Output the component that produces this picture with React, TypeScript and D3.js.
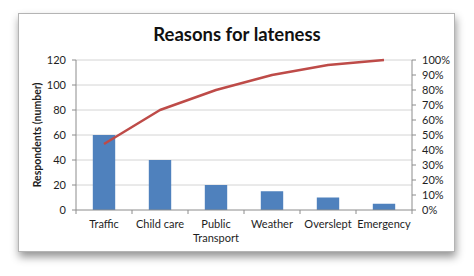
import React from "react";
import * as d3 from "d3";

const categories = ["Traffic", "Child care", "Public\nTransport", "Weather", "Overslept", "Emergency"];
const respondents = [60, 40, 20, 15, 10, 5];
const cumulativePct = [44, 66.7, 80, 90, 96.7, 100];
const leftTicks = [0, 20, 40, 60, 80, 100, 120];
const rightTicks = [0, 10, 20, 30, 40, 50, 60, 70, 80, 90, 100];

const W = 474;
const H = 276;
const plot = { left: 76, right: 412, top: 60, bottom: 210 };
const FONT = "Lato, 'Open Sans', sans-serif";

export default function App() {
  const x = d3
    .scaleBand<string>()
    .domain(categories)
    .range([plot.left, plot.right])
    .paddingInner(0.6)
    .paddingOuter(0.3);
  const band = d3.scaleBand<string>().domain(categories).range([plot.left, plot.right]);
  const yL = d3.scaleLinear().domain([0, 120]).range([plot.bottom, plot.top]);
  const yR = d3.scaleLinear().domain([0, 100]).range([plot.bottom, plot.top]);

  const line = d3
    .line<number>()
    .x((_, i) => (band(categories[i]) as number) + band.bandwidth() / 2)
    .y((d) => yR(d));

  const axisColor = "#8c8c8c";
  const gridColor = "#d4d4d4";
  const textColor = "#1e1e1e";

  return (
    <svg
      width={W}
      height={H}
      style={{ position: "absolute", left: 0, top: 0, background: "#fff" }}
      fontFamily={FONT}
    >
      <defs>
        <filter id="cardShadow" x="-10%" y="-10%" width="125%" height="135%">
          <feDropShadow dx="1" dy="5" stdDeviation="4.5" floodColor="#000" floodOpacity="0.42" />
        </filter>
      </defs>
      <rect x={18.5} y={13.5} width={436} height={238} fill="#fff" stroke="#b4b4b4" strokeWidth={1} filter="url(#cardShadow)" />

      <text x={237} y={41} textAnchor="middle" fontSize={18.5} fontWeight="bold" fill="#111">
        Reasons for lateness
      </text>

      {/* gridlines */}
      {leftTicks.slice(1).map((t) => (
        <line key={t} x1={plot.left} x2={plot.right} y1={yL(t)} y2={yL(t)} stroke={gridColor} strokeWidth={1} />
      ))}

      {/* bars */}
      {respondents.map((v, i) => (
        <rect
          key={categories[i]}
          x={x(categories[i])}
          y={yL(v)}
          width={x.bandwidth()}
          height={yL(0) - yL(v)}
          fill="#4f81bd"
        />
      ))}

      {/* cumulative line */}
      <path d={line(cumulativePct) || ""} fill="none" stroke="#be4b48" strokeWidth={2.5} strokeLinejoin="round" />

      {/* left axis */}
      <line x1={plot.left} x2={plot.left} y1={plot.top} y2={plot.bottom} stroke={axisColor} />
      {leftTicks.map((t) => (
        <g key={t}>
          <line x1={plot.left - 4} x2={plot.left} y1={yL(t)} y2={yL(t)} stroke={axisColor} />
          <text x={66} y={yL(t)} dy="0.35em" textAnchor="end" fontSize={11} fill={textColor}>
            {t}
          </text>
        </g>
      ))}
      <text
        transform={`translate(41,${(plot.top + plot.bottom) / 2}) rotate(-90)`}
        textAnchor="middle"
        fontSize={10.5}
        fontWeight="bold"
        fill={textColor}
      >
        Respondents (number)
      </text>

      {/* right axis */}
      <line x1={plot.right} x2={plot.right} y1={plot.top} y2={plot.bottom} stroke={axisColor} />
      {rightTicks.map((t) => (
        <g key={t}>
          <line x1={plot.right} x2={plot.right + 4} y1={yR(t)} y2={yR(t)} stroke={axisColor} />
          <text x={422} y={yR(t)} dy="0.35em" textAnchor="start" fontSize={11} fill={textColor}>
            {t}%
          </text>
        </g>
      ))}

      {/* x axis */}
      <line x1={plot.left} x2={plot.right} y1={plot.bottom} y2={plot.bottom} stroke={axisColor} />
      {categories.map((c, i) => (
        <line
          key={"tick" + i}
          x1={band(c) as number}
          x2={band(c) as number}
          y1={plot.bottom}
          y2={plot.bottom + 4}
          stroke={axisColor}
        />
      ))}
      <line x1={plot.right} x2={plot.right} y1={plot.bottom} y2={plot.bottom + 4} stroke={axisColor} />
      {categories.map((c) => {
        const cx = (band(c) as number) + band.bandwidth() / 2;
        return (
          <text key={c} x={cx} y={228} textAnchor="middle" fontSize={11} fill={textColor}>
            {c.split("\n").map((part, j) => (
              <tspan key={j} x={cx} dy={j === 0 ? 0 : 13.5}>
                {part}
              </tspan>
            ))}
          </text>
        );
      })}
    </svg>
  );
}
